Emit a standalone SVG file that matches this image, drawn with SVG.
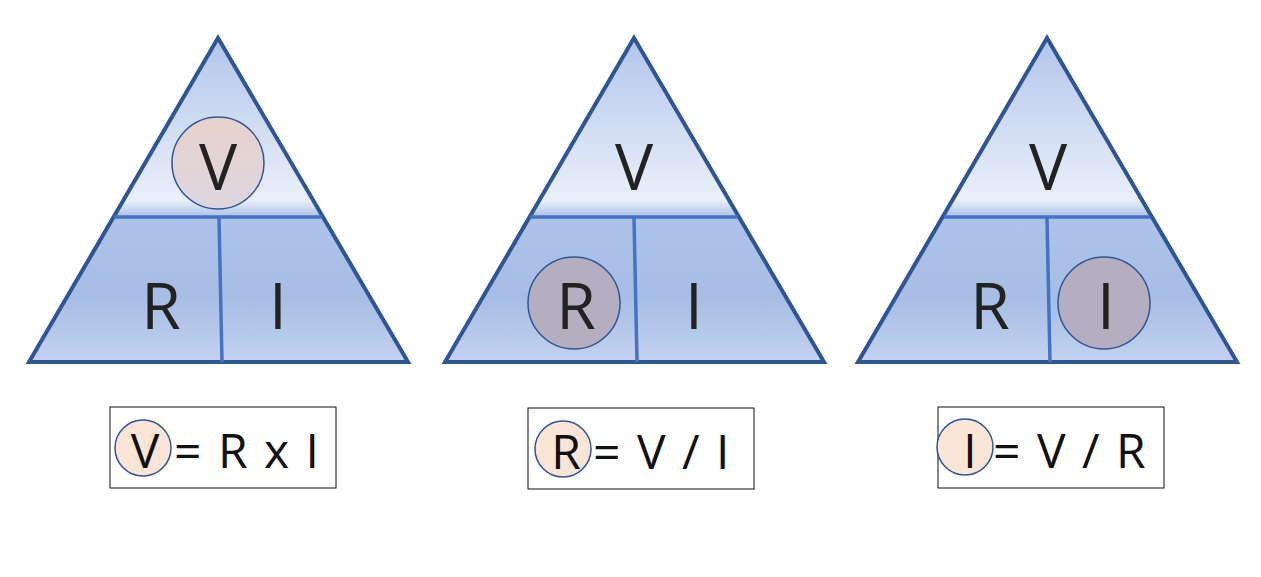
<svg xmlns="http://www.w3.org/2000/svg" width="1261" height="577" viewBox="0 0 1261 577">
<style>
.tri{fill:url(#g);stroke:#2f5597;stroke-width:4;stroke-linejoin:miter}
.div{stroke:#4472c4;stroke-width:3.5;fill:none}
.big{font-family:"Open Sans","Liberation Sans",sans-serif;font-size:64px;fill:#222;text-anchor:middle}
.eq{font-family:"Open Sans","Liberation Sans",sans-serif;font-size:48px;fill:#111}
.box{fill:#fff;stroke:#111;stroke-width:1}
.sc{fill:#fbe5d6;stroke:#2f5597;stroke-width:1.5}
.sel{fill:url(#p);stroke:#2f5597;stroke-width:1.5}
.selg{fill:#b4aec0;stroke:#2f5597;stroke-width:1.5}
</style>
<defs>
<linearGradient id="g" gradientUnits="userSpaceOnUse" x1="0" y1="38" x2="0" y2="362">
<stop offset="0" stop-color="#b2c5ea"/><stop offset="0.5" stop-color="#eaf0fb"/><stop offset="0.55" stop-color="#aec3e8"/><stop offset="0.8" stop-color="#a7bde5"/><stop offset="1" stop-color="#c3d2ef"/>
</linearGradient>
<linearGradient id="p" x1="0" y1="0" x2="0" y2="1"><stop offset="0" stop-color="#e8d2cc"/><stop offset="1" stop-color="#ddd6e0"/></linearGradient>
</defs>
<g id="tri1">
<polygon class="tri" points="218,38 29,362 408,362"/>
<path class="div" d="M114,217H322M219,218L222,362"/>
<circle class="sel" cx="218" cy="163" r="46"/>
<text class="big" x="218" y="190">V</text>
<text class="big" x="161" y="329">R</text>
<text class="big" x="278" y="329">I</text>
</g>
<g id="tri2">
<polygon class="tri" points="634,38 445,362 824,362"/>
<path class="div" d="M530,217H738M634,218L637,362"/>
<circle class="selg" cx="574" cy="303" r="46"/>
<text class="big" x="634" y="190">V</text>
<text class="big" x="576" y="329">R</text>
<text class="big" x="694" y="329">I</text>
</g>
<g id="tri3">
<polygon class="tri" points="1047,38 858,362 1237,362"/>
<path class="div" d="M944,217H1150M1047,218L1050,362"/>
<circle class="selg" cx="1104" cy="303" r="46"/>
<text class="big" x="1048" y="190">V</text>
<text class="big" x="990" y="329">R</text>
<text class="big" x="1106" y="329">I</text>
</g>
<g id="eq1">
<rect class="box" x="110" y="407" width="226" height="81"/>
<circle class="sc" cx="143" cy="448" r="28"/>
<text class="eq" x="145" y="468" text-anchor="middle">V</text>
<text class="eq" x="174" y="468" letter-spacing="2">= R x I</text>
</g>
<g id="eq2">
<rect class="box" x="528" y="408" width="226" height="81"/>
<circle class="sc" cx="563" cy="449" r="28"/>
<text class="eq" x="566" y="469" text-anchor="middle">R</text>
<text class="eq" x="593" y="469" letter-spacing="2">= V / I</text>
</g>
<g id="eq3">
<rect class="box" x="938" y="407" width="226" height="81"/>
<circle class="sc" cx="965" cy="447" r="28"/>
<text class="eq" x="970" y="468" text-anchor="middle">I</text>
<text class="eq" x="993" y="468" letter-spacing="2">= V / R</text>
</g>
</svg>
